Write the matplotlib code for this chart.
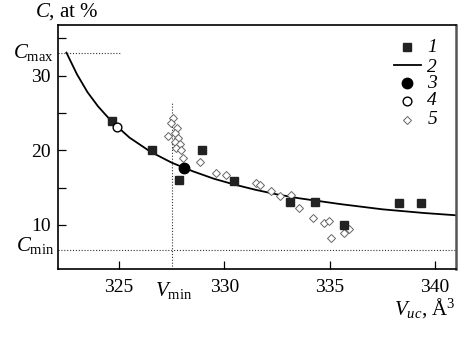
import matplotlib
matplotlib.use("Agg")
import matplotlib.pyplot as plt

plt.rcParams['font.family'] = ['Liberation Serif', 'DejaVu Serif']
plt.rcParams['mathtext.fontset'] = 'custom'
plt.rcParams['mathtext.rm'] = 'Liberation Serif'
plt.rcParams['mathtext.it'] = 'Liberation Serif:italic'

# 1 - squares
sq_v = [324.67, 326.55, 328.95, 327.83, 330.45, 333.14, 334.30, 338.27, 339.36, 335.66]
sq_c = [23.9, 20.0, 20.0, 16.0, 15.9, 13.05, 13.05, 13.0, 13.0, 10.0]

# 2 - fitted curve
fit_v = [322.5, 323.0, 323.5, 324.0, 324.67, 325.5, 326.5, 327.5, 328.5, 329.5, 330.5,
         331.5, 332.5, 333.5, 334.5, 335.5, 336.5, 337.5, 338.5, 339.5, 340.5, 341.0]
fit_c = [33.1, 30.2, 27.8, 25.9, 23.8, 21.7, 19.8, 18.35, 17.2, 16.2, 15.4,
         14.7, 14.1, 13.6, 13.2, 12.8, 12.45, 12.1, 11.85, 11.6, 11.4, 11.3]

# 3 - filled circle, 4 - open circle
fc_v, fc_c = [328.07], [17.65]
oc_v, oc_c = [324.88], [23.1]

# 5 - diamonds
dm_v = [327.56, 327.48, 327.77, 327.32, 327.67, 327.80, 327.64, 327.88, 327.72, 327.96,
        328.03, 328.82, 329.62, 330.09, 331.48, 331.70, 332.22, 332.65, 333.17, 333.53,
        334.23, 334.75, 334.95, 335.07, 335.70, 335.90]
dm_c = [24.4, 23.65, 22.98, 21.99, 22.31, 21.64, 21.18, 20.83, 20.30, 20.07,
        19.03, 18.42, 16.94, 16.71, 15.60, 15.37, 14.60, 13.89, 14.03, 12.24,
        10.90, 10.23, 10.58, 8.21, 8.89, 9.42]

c_max, c_min, v_min = 33.1, 6.7, 327.53

fig = plt.figure(figsize=(4.74, 3.51), dpi=100)
ax = fig.add_axes([58/474, 1-269/351, 398/474, 244/351])
ax.set_xlim(322.1, 341.0)
ax.set_ylim(4.1, 36.8)

dot = (0, (1, 1.6))
ax.plot([322.1, 325.1], [c_max, c_max], color='#333', lw=0.8, ls=dot)
ax.axhline(c_min, color='#333', lw=0.8, ls=dot)
ax.plot([v_min, v_min], [4.1, 26.4], color='#333', lw=0.8, ls=dot)

ax.plot(fit_v, fit_c, color='black', lw=1.3, zorder=2)
ax.plot(dm_v, dm_c, 'D', ms=4, mfc='white', mec='#666', mew=0.7, zorder=3)
ax.plot(sq_v, sq_c, 's', ms=6, color='#222', zorder=4)
ax.plot(oc_v, oc_c, 'o', ms=6.3, mfc='white', mec='black', mew=1, zorder=4)
ax.plot(fc_v, fc_c, 'o', ms=7.5, color='black', zorder=5)

# legend drawn by hand
tr = ax.transAxes
ax.plot([0.876], [0.909], 's', ms=6, color='#222', transform=tr, clip_on=False)
ax.plot([0.844, 0.911], [0.836, 0.836], color='black', lw=1.3, transform=tr)
ax.plot([0.876], [0.761], 'o', ms=7.5, color='black', transform=tr)
ax.plot([0.876], [0.689], 'o', ms=6.3, mfc='white', mec='black', mew=1, transform=tr)
ax.plot([0.876], [0.611], 'D', ms=4, mfc='white', mec='#666', mew=0.7, transform=tr)
for lab, yy in zip(['1', '2', '3', '4', '5'], [0.909, 0.826, 0.761, 0.689, 0.611]):
    ax.text(0.928, yy, lab, transform=tr, fontsize=14, style='italic', va='center', ha='left')

ax.set_xticks([325, 330, 335, 340])
ax.set_yticks([10, 20, 30])
ax.set_yticks([15, 25, 35], minor=True)
ax.tick_params(direction='in', length=6, width=0.9, labelsize=14, pad=7)
ax.tick_params(which='minor', direction='in', length=6, width=0.9)
ax.tick_params(axis='y', pad=5)
for s in ax.spines.values():
    s.set_linewidth(1.2)
ax.spines['right'].set_color('#555')
ax.spines['right'].set_linewidth(1.8)

ax.text(-0.01, c_max, r'$C_{\mathrm{max}}$', transform=ax.get_yaxis_transform(),
        ha='right', va='center', fontsize=15)
ax.text(-0.01, c_min + 0.6, r'$C_{\mathrm{min}}$', transform=ax.get_yaxis_transform(),
        ha='right', va='center', fontsize=15)
ax.text(v_min + 0.05, -0.045, r'$V_{\mathrm{min}}$', transform=ax.get_xaxis_transform(),
        ha='center', va='top', fontsize=15)
fig.text(35/474, 1-17/351, r'$C$, at %', fontsize=15, ha='left', va='baseline')
fig.text(455/474, 1-315/351, r'$V_{uc}$, Å$^3$', fontsize=15, ha='right', va='baseline')

fig.savefig('out.png', dpi=100)
